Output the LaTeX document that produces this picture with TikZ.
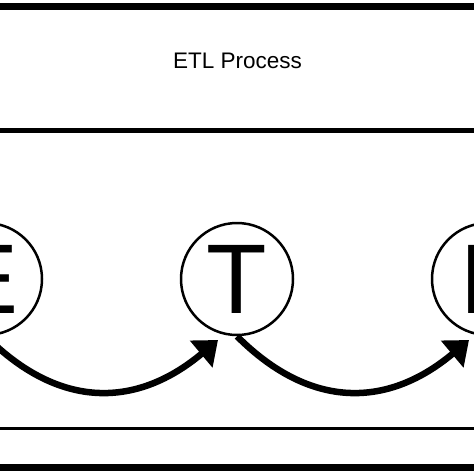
\documentclass[tikz,border=0pt]{standalone}
\usepackage{fontspec}
\setmainfont{Liberation Sans}
\usetikzlibrary{arrows.meta}
\tikzset{
  rule/.style={draw=black},
  stage/.style={circle, draw=black, line width=2.5pt, minimum size=112pt, inner sep=0pt, font=\fontsize{99}{99}\selectfont},
  flow/.style={line width=6.5pt, -{Triangle[length=22pt,width=34pt]}},
  title/.style={inner sep=0pt, font=\fontsize{22.5}{24}\selectfont}
}
\begin{document}
\begin{tikzpicture}[x=1pt,y=1pt]
\useasboundingbox (0,0) rectangle (474,-474);
\fill[white] (0,0) rectangle (474,-474);
\clip (0,0) rectangle (474,-474);
% horizontal rules
\draw[rule, line width=7pt] (-5,-6) -- (479,-6);
\draw[rule, line width=4.5pt] (-5,-130.5) -- (479,-130.5);
\draw[rule, line width=3pt] (-5,-428.3) -- (479,-428.3);
\draw[rule, line width=7pt] (-5,-467.5) -- (479,-467.5);
% title
\node[title] (ttl) at (237.5,-61) {ETL Process};
% stages
\node[stage] (E) at (-14,-279) {E};
\node[stage] (T) at (237,-279) {T};
\node[stage] (L) at (488,-279) {L};
\coordinate (t1) at (218,-340);
\coordinate (t2) at (469,-340);
% flows
\draw[flow] (E.south) .. controls +(-45:105) and +(220:105) .. (t1);
\draw[flow] (T.south) .. controls +(-45:105) and +(220:105) .. (t2);
\end{tikzpicture}
\end{document}
